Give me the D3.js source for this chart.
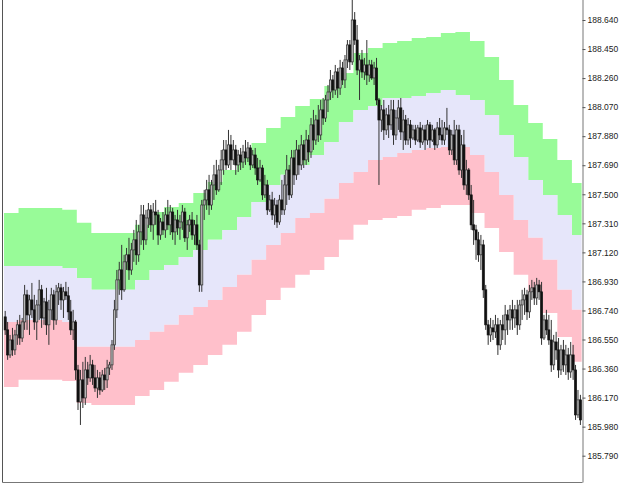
<!DOCTYPE html>
<html><head><meta charset="utf-8">
<script src="https://cdn.jsdelivr.net/npm/d3@7"></script>
<style>html,body{margin:0;padding:0;background:#fff;}svg{display:block;}</style>
</head><body>
<svg id="chart" width="630" height="484"></svg>
<script>
// ---- data ----
const tickValues = [188.640,188.450,188.260,188.070,187.880,187.690,187.500,187.310,187.120,186.930,186.740,186.550,186.360,186.170,185.980,185.790];
const tickLabels = ["188.640","188.450","188.260","188.070","187.880","187.690","187.500","187.310","187.120","186.930","186.740","186.550","186.360","186.170","185.980","185.790"];

const openP = [186.698,186.613,186.449,186.547,186.482,186.580,186.646,186.560,186.665,186.842,186.711,186.809,
186.744,186.665,186.776,186.875,186.691,186.796,186.646,186.744,186.842,186.678,186.862,186.888,
186.809,186.862,186.836,186.731,186.613,186.665,186.351,186.142,186.286,186.168,186.351,186.299,
186.384,186.299,186.233,186.299,186.220,186.318,186.286,186.364,186.384,186.515,186.744,186.940,
187.005,186.875,187.058,187.104,187.005,187.136,187.202,187.104,187.254,187.365,187.202,187.345,
187.398,187.300,187.384,187.365,187.234,187.319,187.267,187.365,187.300,187.384,187.254,187.332,
187.280,187.319,187.384,187.215,187.300,187.332,187.234,187.300,187.169,186.907,187.430,187.463,
187.529,187.430,187.561,187.627,187.529,187.659,187.725,187.790,187.692,187.823,187.725,187.790,
187.692,187.757,187.711,187.777,187.738,187.803,187.692,187.757,187.672,187.594,187.672,187.496,
187.561,187.398,187.463,187.365,187.430,187.319,187.463,187.398,187.561,187.659,187.496,187.738,
187.627,187.790,187.692,187.823,187.725,187.855,187.777,187.954,187.855,187.986,187.888,188.052,
187.999,188.117,188.169,188.248,188.182,188.300,188.195,188.326,188.248,188.379,188.477,188.366,
188.640,188.509,188.313,188.379,188.300,188.346,188.280,188.346,188.261,188.326,188.117,187.986,
188.052,187.921,188.019,187.954,188.052,187.888,187.999,188.065,187.908,187.986,187.855,187.954,
187.868,187.921,187.855,187.934,187.842,187.921,187.855,187.954,187.855,187.921,187.823,187.934,
187.888,187.855,187.934,187.921,187.790,187.888,187.725,187.921,187.659,187.823,187.561,187.659,
187.496,187.300,187.267,187.202,187.104,187.169,186.875,186.646,186.580,186.626,186.600,186.646,
186.515,186.646,186.613,186.711,186.678,186.744,186.691,186.744,186.646,186.776,186.809,186.842,
186.731,186.862,186.888,186.822,186.907,186.862,186.560,186.678,186.613,186.547,186.384,186.534,
186.482,186.351,186.482,186.384,186.449,186.338,186.449,186.351,186.057,186.155];
const highP = [186.737,186.665,186.580,186.626,186.613,186.678,186.711,186.691,186.907,186.875,186.842,186.920,
186.842,186.809,186.940,186.907,186.822,186.888,186.809,186.888,186.875,186.907,186.920,186.914,
186.894,186.927,186.894,186.809,186.744,186.678,186.384,186.351,186.404,186.436,186.404,186.449,
186.417,186.384,186.351,186.338,186.351,186.364,186.417,186.404,186.547,186.809,187.005,187.058,
187.169,187.104,187.149,187.215,187.182,187.267,187.332,187.300,187.430,187.430,187.398,187.443,
187.430,187.443,187.463,187.398,187.345,187.384,187.411,187.463,187.430,187.411,187.365,187.398,
187.365,187.430,187.411,187.332,187.365,187.384,187.332,187.365,187.202,187.463,187.529,187.594,
187.627,187.594,187.692,187.725,187.692,187.790,187.855,187.855,187.921,187.888,187.855,187.823,
187.790,187.803,187.823,187.855,187.842,187.823,187.790,187.803,187.738,187.725,187.692,187.627,
187.594,187.496,187.516,187.476,187.463,187.496,187.594,187.627,187.757,187.692,187.790,187.790,
187.855,187.823,187.888,187.855,187.921,187.888,187.999,188.052,188.019,188.084,188.117,188.130,
188.150,188.215,188.313,188.280,188.346,188.326,188.379,188.366,188.411,188.509,188.509,188.771,
188.692,188.607,188.411,188.444,188.392,188.509,188.379,188.379,188.366,188.392,188.130,188.084,
188.117,188.065,188.084,188.117,188.117,188.052,188.117,188.130,188.052,188.019,187.999,187.986,
187.954,187.954,187.954,187.973,187.954,187.954,187.986,187.973,187.954,187.934,187.973,187.999,
187.986,187.973,188.065,187.954,187.921,187.986,187.954,187.954,187.888,187.921,187.725,187.672,
187.561,187.463,187.300,187.254,187.234,187.202,186.907,186.678,186.691,186.678,186.711,186.691,
186.678,186.711,186.776,186.744,186.776,186.809,186.776,186.809,186.809,186.875,186.888,186.875,
186.907,186.940,186.927,186.953,186.940,186.927,186.711,186.744,186.711,186.678,186.580,186.600,
186.560,186.515,186.547,186.515,186.495,186.534,186.515,186.384,186.220,186.188];
const lowP = [186.580,186.417,186.430,186.443,186.449,186.515,186.515,186.534,186.613,186.613,186.580,186.691,
186.613,186.547,186.678,186.626,186.646,186.580,186.515,186.678,186.613,186.646,186.776,186.744,
186.691,186.809,186.678,186.580,186.547,186.286,186.089,185.991,186.102,186.122,186.253,186.273,
186.253,186.207,186.168,186.188,186.207,186.220,186.233,186.318,186.351,186.482,186.691,186.842,
186.809,186.862,187.005,186.940,186.973,187.058,187.038,187.058,187.169,187.136,187.169,187.280,
187.254,187.202,187.300,187.169,187.202,187.234,187.215,187.267,187.234,187.202,187.169,187.234,
187.202,187.267,187.188,187.136,187.254,187.202,187.169,187.136,186.862,186.862,187.332,187.398,
187.365,187.398,187.463,187.496,187.516,187.561,187.627,187.659,187.672,187.659,187.692,187.627,
187.646,187.659,187.672,187.692,187.711,187.659,187.672,187.627,187.561,187.581,187.463,187.476,
187.365,187.384,187.332,187.300,187.280,187.300,187.365,187.365,187.430,187.463,187.476,187.561,
187.594,187.627,187.659,187.672,187.692,187.711,187.738,187.790,187.823,187.842,187.855,187.954,
187.973,188.038,188.117,188.130,188.150,188.130,188.150,188.215,188.195,188.326,188.313,188.346,
188.477,188.280,188.117,188.261,188.248,188.215,188.235,188.248,188.215,188.084,187.561,187.908,
187.855,187.888,187.868,187.921,187.823,187.855,187.921,187.855,187.790,187.823,187.823,187.803,
187.855,187.823,187.842,187.803,187.823,187.790,187.823,187.803,187.842,187.790,187.803,187.855,
187.823,187.823,187.888,187.757,187.757,187.692,187.692,187.627,187.607,187.529,187.496,187.463,
187.267,187.169,187.071,187.058,187.005,186.822,186.613,186.515,186.534,186.547,186.560,186.449,
186.482,186.547,186.515,186.580,186.613,186.613,186.626,186.580,186.613,186.678,186.711,186.678,
186.691,186.809,186.776,186.776,186.809,186.515,186.547,186.580,186.515,186.338,186.351,186.417,
186.299,186.318,186.338,186.318,186.286,186.299,186.286,186.024,186.037,185.991];
const closeP = [186.613,186.449,186.547,186.482,186.580,186.646,186.560,186.665,186.842,186.711,186.809,186.744,
186.665,186.776,186.875,186.691,186.796,186.646,186.744,186.842,186.678,186.862,186.888,186.809,
186.862,186.836,186.731,186.613,186.665,186.351,186.142,186.286,186.168,186.351,186.299,186.384,
186.299,186.233,186.299,186.220,186.318,186.286,186.364,186.384,186.515,186.744,186.940,187.005,
186.875,187.058,187.104,187.005,187.136,187.202,187.104,187.254,187.365,187.202,187.345,187.398,
187.300,187.384,187.365,187.234,187.319,187.267,187.365,187.300,187.384,187.254,187.332,187.280,
187.319,187.384,187.215,187.300,187.332,187.234,187.300,187.169,186.907,187.430,187.463,187.529,
187.430,187.561,187.627,187.529,187.659,187.725,187.790,187.692,187.823,187.725,187.790,187.692,
187.757,187.711,187.777,187.738,187.803,187.692,187.757,187.672,187.594,187.672,187.496,187.561,
187.398,187.463,187.365,187.430,187.319,187.463,187.398,187.561,187.659,187.496,187.738,187.627,
187.790,187.692,187.823,187.725,187.855,187.777,187.954,187.855,187.986,187.888,188.052,187.999,
188.117,188.169,188.248,188.182,188.300,188.195,188.326,188.248,188.379,188.477,188.366,188.640,
188.509,188.313,188.379,188.300,188.346,188.280,188.346,188.261,188.326,188.117,187.986,188.052,
187.921,188.019,187.954,188.052,187.888,187.999,188.065,187.908,187.986,187.855,187.954,187.868,
187.921,187.855,187.934,187.842,187.921,187.855,187.954,187.855,187.921,187.823,187.934,187.888,
187.855,187.934,187.921,187.790,187.888,187.725,187.921,187.659,187.823,187.561,187.659,187.496,
187.300,187.267,187.202,187.104,187.169,186.875,186.646,186.580,186.626,186.600,186.646,186.515,
186.646,186.613,186.711,186.678,186.744,186.691,186.744,186.646,186.776,186.809,186.842,186.731,
186.862,186.888,186.822,186.907,186.862,186.560,186.678,186.613,186.547,186.384,186.534,186.482,
186.351,186.482,186.384,186.449,186.338,186.449,186.351,186.057,186.155,186.024];

// band levels, one value per block of 6 bars
const upperOuter = [187.378,187.411,187.411,187.411,187.398,187.313,187.247,187.247,187.247,187.300,
187.384,187.417,187.443,187.509,187.581,187.659,187.744,187.836,187.934,188.006,
188.078,188.124,188.209,188.294,188.424,188.457,188.490,188.503,188.522,188.529,
188.555,188.562,188.503,188.398,188.248,188.084,187.967,187.862,187.725,187.574];
const upperInner = [187.031,187.031,187.031,187.031,187.018,186.953,186.875,186.875,186.875,186.940,
187.005,187.038,187.090,187.136,187.202,187.267,187.352,187.450,187.561,187.627,
187.692,187.757,187.842,187.973,188.052,188.078,188.130,188.130,188.143,188.163,
188.182,188.150,188.117,188.019,187.888,187.744,187.594,187.496,187.365,187.234];
const lowerInner = [186.665,186.678,186.678,186.678,186.665,186.502,186.502,186.502,186.502,186.547,
186.600,186.646,186.711,186.763,186.809,186.894,186.973,187.071,187.169,187.247,
187.345,187.378,187.470,187.574,187.646,187.725,187.744,187.770,187.790,187.803,
187.810,187.810,187.757,187.646,187.496,187.332,187.215,187.071,186.875,186.744];
const lowerOuter = [186.240,186.286,186.286,186.286,186.279,186.135,186.122,186.122,186.122,186.181,
186.220,186.273,186.332,186.384,186.449,186.515,186.600,186.711,186.809,186.888,
186.973,187.005,187.090,187.202,187.300,187.332,187.345,187.358,187.398,187.411,
187.430,187.430,187.378,187.280,187.123,186.973,186.862,186.724,186.567,186.404];
const blockSize = 6;

// ---- drawing ----
const svg = d3.select("#chart");
const W = 630, H = 484;
const plotLeft = 2.5, plotRight = 582.5, plotBottom = 482.5;
const N = closeP.length;
const x = d3.scaleLinear().domain([0, N - 1]).range([5.2, 5.2 + (N - 1) * 2.427]);
const y = d3.scaleLinear().domain([185.79, 188.64]).range([455.7, 20]);

svg.append("rect").attr("width", W).attr("height", H).attr("fill", "#fff");

svg.append("defs").append("clipPath").attr("id", "plot")
  .append("rect").attr("x", plotLeft).attr("y", 0).attr("width", plotRight - plotLeft).attr("height", plotBottom);

const steps = upperOuter.map((v, k) => ({
  x0: Math.max(plotLeft + 0.5, x(k * blockSize - 0.5)),
  u2: v, u1: upperInner[k], l1: lowerInner[k], l2: lowerOuter[k]
}));
const lastX = Math.min(plotRight, x(N - 1 + 0.5));
const stepPts = steps.concat([Object.assign({}, steps[steps.length - 1], { x0: lastX })]);

const g = svg.append("g").attr("clip-path", "url(#plot)");
function band(top, bot, color) {
  const a = d3.area().curve(d3.curveStepAfter)
    .x(d => d.x0).y0(d => y(d[bot])).y1(d => y(d[top]));
  g.append("path").datum(stepPts).attr("d", a).attr("fill", color).attr("stroke", "none");
}
band("u2", "u1", "#98fb98");
band("u1", "l1", "#e6e6fa");
band("l1", "l2", "#ffc0cb");

// candles
const bars = d3.range(N).map(i => ({ i, o: openP[i], h: highP[i], l: lowP[i], c: closeP[i] }));
const cg = g.append("g");
cg.selectAll("line.wick").data(bars).join("line")
  .attr("x1", d => x(d.i)).attr("x2", d => x(d.i))
  .attr("y1", d => y(d.h)).attr("y2", d => y(d.l))
  .attr("stroke", "#333").attr("stroke-width", 1);
cg.selectAll("rect.body").data(bars).join("rect")
  .attr("x", d => x(d.i) - 1.05)
  .attr("width", 2.1)
  .attr("y", d => y(Math.max(d.o, d.c)))
  .attr("height", d => Math.max(1, Math.abs(y(d.o) - y(d.c))))
  .attr("fill", d => d.c >= d.o ? "#b8b8b8" : "#111")
  .attr("stroke", d => d.c >= d.o ? "#333" : "#111")
  .attr("stroke-width", 0.7);

// frame
svg.append("line").attr("x1", plotLeft).attr("x2", plotLeft).attr("y1", 0).attr("y2", plotBottom)
  .attr("stroke", "#555").attr("stroke-width", 1);
svg.append("line").attr("x1", plotLeft).attr("x2", plotRight).attr("y1", plotBottom).attr("y2", plotBottom)
  .attr("stroke", "#777").attr("stroke-width", 1);

// right price axis
const axis = d3.axisRight(y).tickValues(tickValues).tickFormat((d, i) => tickLabels[i]).tickSize(3).tickPadding(2);
const ag = svg.append("g").attr("transform", `translate(${plotRight},0)`).call(axis);
ag.select(".domain").attr("stroke", "#777").attr("d", `M0.5,0V${plotBottom}`);
ag.selectAll(".tick line").attr("stroke", "#555");
ag.selectAll(".tick text").attr("fill", "#222").style("font-family", "'Liberation Sans', Arial, sans-serif").style("font-size", "8.5px");
</script>
</body></html>
